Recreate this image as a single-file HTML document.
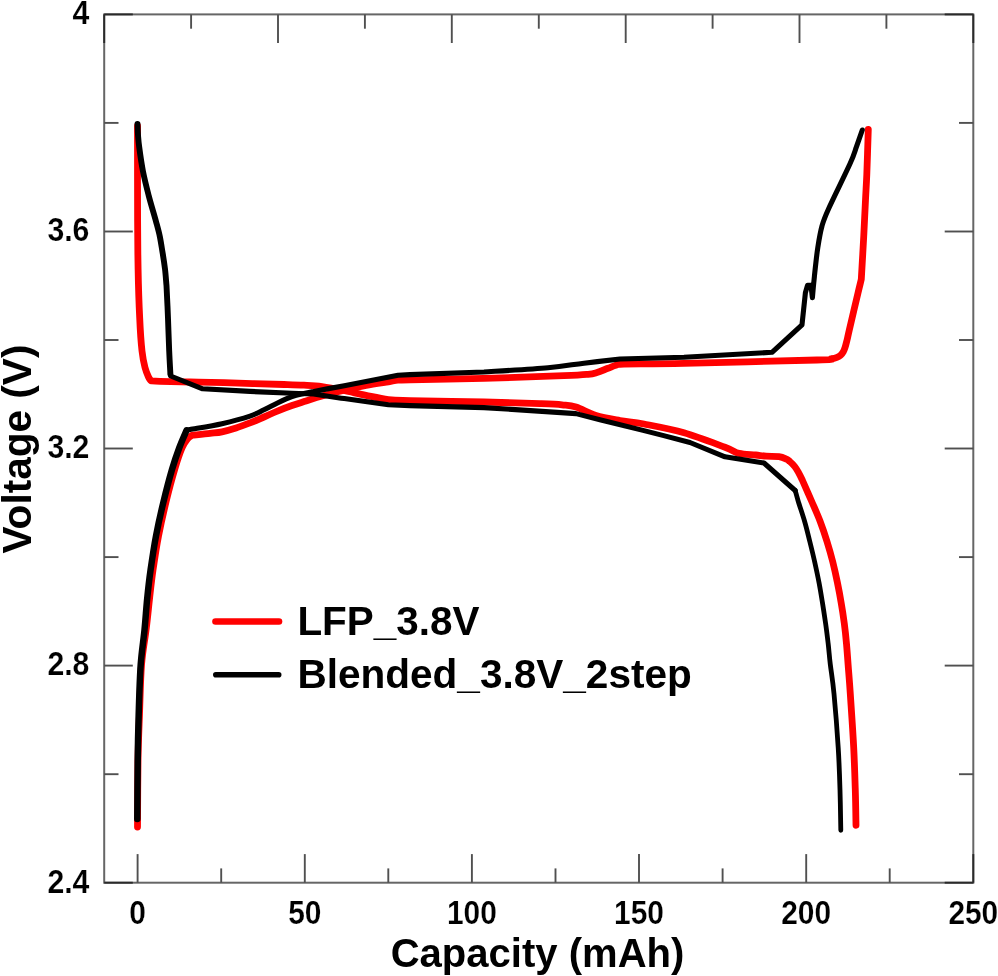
<!DOCTYPE html>
<html lang="en"><head><meta charset="utf-8"><title>Voltage vs Capacity</title>
<style>html,body{margin:0;padding:0;background:#fff;}body{width:998px;height:976px;overflow:hidden;}svg{display:block;}text{font-family:"Liberation Sans",Arial,Helvetica,sans-serif;font-weight:bold;fill:#000;}</style></head><body>
<svg width="998" height="976" viewBox="0 0 998 976">
<rect x="0" y="0" width="998" height="976" fill="#fff"/>
<rect x="104.2" y="14.4" width="869.1" height="868.3" fill="none" stroke="#666" stroke-width="2"/>
<line x1="104.2" y1="14.4" x2="132.8" y2="14.4" stroke="#2a2a2a" stroke-width="1.9"/>
<line x1="973.3" y1="14.4" x2="944.7" y2="14.4" stroke="#2a2a2a" stroke-width="1.9"/>
<line x1="104.2" y1="122.9" x2="118.5" y2="122.9" stroke="#505050" stroke-width="1.9"/>
<line x1="973.3" y1="122.9" x2="959.0" y2="122.9" stroke="#505050" stroke-width="1.9"/>
<line x1="104.2" y1="231.5" x2="132.8" y2="231.5" stroke="#505050" stroke-width="1.9"/>
<line x1="973.3" y1="231.5" x2="944.7" y2="231.5" stroke="#505050" stroke-width="1.9"/>
<line x1="104.2" y1="340.0" x2="118.5" y2="340.0" stroke="#505050" stroke-width="1.9"/>
<line x1="973.3" y1="340.0" x2="959.0" y2="340.0" stroke="#505050" stroke-width="1.9"/>
<line x1="104.2" y1="448.5" x2="132.8" y2="448.5" stroke="#505050" stroke-width="1.9"/>
<line x1="973.3" y1="448.5" x2="944.7" y2="448.5" stroke="#505050" stroke-width="1.9"/>
<line x1="104.2" y1="557.1" x2="118.5" y2="557.1" stroke="#505050" stroke-width="1.9"/>
<line x1="973.3" y1="557.1" x2="959.0" y2="557.1" stroke="#505050" stroke-width="1.9"/>
<line x1="104.2" y1="665.6" x2="132.8" y2="665.6" stroke="#505050" stroke-width="1.9"/>
<line x1="973.3" y1="665.6" x2="944.7" y2="665.6" stroke="#505050" stroke-width="1.9"/>
<line x1="104.2" y1="774.2" x2="118.5" y2="774.2" stroke="#505050" stroke-width="1.9"/>
<line x1="973.3" y1="774.2" x2="959.0" y2="774.2" stroke="#505050" stroke-width="1.9"/>
<line x1="104.2" y1="882.7" x2="132.8" y2="882.7" stroke="#2a2a2a" stroke-width="1.9"/>
<line x1="973.3" y1="882.7" x2="944.7" y2="882.7" stroke="#2a2a2a" stroke-width="1.9"/>
<line x1="137.6" y1="882.7" x2="137.6" y2="854.1" stroke="#505050" stroke-width="1.9"/>
<line x1="221.2" y1="882.7" x2="221.2" y2="868.4" stroke="#505050" stroke-width="1.9"/>
<line x1="304.8" y1="882.7" x2="304.8" y2="854.1" stroke="#505050" stroke-width="1.9"/>
<line x1="388.3" y1="882.7" x2="388.3" y2="868.4" stroke="#505050" stroke-width="1.9"/>
<line x1="471.9" y1="882.7" x2="471.9" y2="854.1" stroke="#505050" stroke-width="1.9"/>
<line x1="555.5" y1="882.7" x2="555.5" y2="868.4" stroke="#505050" stroke-width="1.9"/>
<line x1="639.0" y1="882.7" x2="639.0" y2="854.1" stroke="#505050" stroke-width="1.9"/>
<line x1="722.6" y1="882.7" x2="722.6" y2="868.4" stroke="#505050" stroke-width="1.9"/>
<line x1="806.2" y1="882.7" x2="806.2" y2="854.1" stroke="#505050" stroke-width="1.9"/>
<line x1="889.7" y1="882.7" x2="889.7" y2="868.4" stroke="#505050" stroke-width="1.9"/>
<line x1="973.3" y1="882.7" x2="973.3" y2="854.1" stroke="#2a2a2a" stroke-width="1.9"/>
<line x1="104.2" y1="14.4" x2="104.2" y2="43.0" stroke="#2a2a2a" stroke-width="1.9"/>
<line x1="191.1" y1="14.4" x2="191.1" y2="28.7" stroke="#505050" stroke-width="1.9"/>
<line x1="278.0" y1="14.4" x2="278.0" y2="43.0" stroke="#505050" stroke-width="1.9"/>
<line x1="364.9" y1="14.4" x2="364.9" y2="28.7" stroke="#505050" stroke-width="1.9"/>
<line x1="451.8" y1="14.4" x2="451.8" y2="43.0" stroke="#505050" stroke-width="1.9"/>
<line x1="538.8" y1="14.4" x2="538.8" y2="28.7" stroke="#505050" stroke-width="1.9"/>
<line x1="625.7" y1="14.4" x2="625.7" y2="43.0" stroke="#505050" stroke-width="1.9"/>
<line x1="712.6" y1="14.4" x2="712.6" y2="28.7" stroke="#505050" stroke-width="1.9"/>
<line x1="799.5" y1="14.4" x2="799.5" y2="43.0" stroke="#505050" stroke-width="1.9"/>
<line x1="886.4" y1="14.4" x2="886.4" y2="28.7" stroke="#505050" stroke-width="1.9"/>
<line x1="973.3" y1="14.4" x2="973.3" y2="43.0" stroke="#2a2a2a" stroke-width="1.9"/>
<g fill="none" stroke-linecap="round" stroke-linejoin="round">
<path d="M137.5 827.0 C137.6 816.0 137.7 779.8 138.0 761.0 C138.3 742.2 138.9 730.0 139.5 714.0 C140.1 698.0 140.4 679.3 141.5 665.0 C142.6 650.7 145.0 639.2 146.3 628.0 C147.7 616.8 148.5 607.7 149.6 598.0 C150.7 588.3 151.5 580.3 153.0 570.0 C154.5 559.7 156.3 547.3 158.5 536.0 C160.7 524.7 163.3 513.2 166.0 502.0 C168.7 490.8 172.1 478.0 174.8 469.0 C177.5 460.0 179.8 453.1 182.0 448.0 C184.2 442.9 186.1 440.6 187.8 438.5 C189.5 436.4 191.6 435.8 192.3 435.2 C195.2 434.9 205.1 434.0 210.0 433.4 C214.9 432.8 217.7 432.7 222.0 431.8 C226.3 430.9 231.3 429.5 236.0 428.0 C240.7 426.5 245.3 424.7 250.0 422.9 C254.7 421.1 259.3 419.0 264.0 417.0 C268.7 415.0 273.3 412.7 278.0 410.8 C282.7 408.9 287.3 407.1 292.0 405.5 C296.7 403.9 301.0 402.6 306.0 401.0 C311.0 399.4 315.6 397.8 322.0 396.0 C328.4 394.2 337.0 392.0 344.3 390.2 C351.6 388.4 358.6 386.8 366.0 385.4 C373.4 384.0 383.4 382.6 388.4 381.8 C393.4 381.0 392.4 380.7 396.0 380.4 C399.6 380.1 395.3 380.1 410.0 379.8 C424.7 379.5 458.3 379.0 484.0 378.3 C509.7 377.6 546.7 376.4 564.0 375.7 C581.3 375.0 582.5 374.8 588.0 374.3 C593.5 373.8 593.7 373.5 597.0 372.5 C600.3 371.5 604.8 369.5 608.0 368.3 C611.2 367.1 613.3 366.0 616.0 365.3 C618.7 364.6 612.7 364.3 624.0 364.0 C635.3 363.7 651.8 364.0 684.0 363.3 C716.2 362.6 792.4 360.8 817.0 360.0 C841.6 359.2 828.1 359.1 831.4 358.7 C834.7 358.2 835.5 357.9 837.0 357.3 C838.5 356.7 839.6 356.1 840.6 355.2 C841.6 354.3 842.5 353.2 843.3 351.8 C844.1 350.4 844.6 348.9 845.2 347.0 C845.8 345.1 846.3 343.0 847.0 340.2 C847.7 337.4 847.5 337.9 849.3 330.0 C851.1 322.1 856.0 301.4 858.0 293.0 C860.0 284.6 860.8 281.6 861.3 279.3 C861.7 272.2 863.0 250.1 863.7 236.9 C864.4 223.7 865.0 210.4 865.5 200.0 C866.0 189.6 866.3 186.3 866.8 174.5 C867.3 162.7 868.0 136.9 868.3 129.4" stroke="#ff0000" stroke-width="6.8"/>
<path d="M137.5 126.0 C137.5 141.7 137.5 196.2 137.6 220.0 C137.7 243.8 137.8 252.7 138.1 269.0 C138.4 285.3 139.0 304.3 139.7 318.0 C140.3 331.7 141.1 342.8 142.0 351.0 C142.9 359.2 143.9 363.2 145.0 367.5 C146.1 371.8 147.5 374.8 148.5 377.0 C149.5 379.2 150.6 380.2 151.0 380.8 C152.5 380.9 153.5 381.1 160.0 381.3 C166.5 381.5 179.3 381.8 190.0 382.0 C200.7 382.2 208.3 382.3 224.0 382.7 C239.7 383.1 270.7 384.1 284.0 384.5 C297.3 384.9 297.7 384.9 304.0 385.2 C310.3 385.5 315.3 385.6 322.0 386.5 C328.7 387.4 336.7 389.0 344.0 390.5 C351.3 392.0 358.6 393.8 366.0 395.3 C373.4 396.8 381.1 398.6 388.4 399.5 C395.7 400.4 394.1 400.2 410.0 400.6 C425.9 401.0 462.3 401.5 484.0 402.0 C505.7 402.5 527.0 403.1 540.0 403.6 C553.0 404.1 556.0 404.2 562.0 404.8 C568.0 405.4 570.3 405.2 576.0 407.0 C581.7 408.8 588.7 413.2 596.0 415.5 C603.3 417.8 612.0 419.1 620.0 420.5 C628.0 421.9 633.3 421.9 644.0 424.0 C654.7 426.1 670.5 428.9 684.0 432.8 C697.5 436.7 715.8 443.9 725.0 447.3 C734.2 450.7 733.9 452.1 739.0 453.4 C744.1 454.7 751.2 454.5 755.7 455.0 C760.2 455.5 762.1 455.9 766.0 456.2 C769.9 456.5 775.6 456.2 779.0 456.7 C782.4 457.2 784.7 458.4 786.5 459.2 C788.3 460.0 788.4 460.3 789.8 461.5 C791.2 462.7 793.3 464.7 794.7 466.5 C796.1 468.3 797.1 470.1 798.4 472.3 C799.7 474.6 800.1 475.3 802.3 480.0 C804.4 484.7 808.3 493.7 811.3 500.5 C814.2 507.3 817.4 514.2 820.0 521.0 C822.6 527.8 824.9 534.7 827.0 541.5 C829.1 548.3 831.1 555.2 832.8 562.0 C834.5 568.8 836.0 575.7 837.4 582.5 C838.8 589.3 840.1 596.2 841.2 603.0 C842.4 609.8 843.4 616.6 844.3 623.4 C845.2 630.2 845.9 637.1 846.5 643.9 C847.1 650.7 847.5 656.1 848.1 664.4 C848.7 672.7 849.4 679.9 850.3 693.8 C851.2 707.6 852.9 731.5 853.7 747.5 C854.5 763.5 854.9 777.0 855.3 790.0 C855.7 803.0 855.9 819.4 856.0 825.3" stroke="#ff0000" stroke-width="6.8"/>
<path d="M137.3 819.0 C137.4 809.4 137.5 779.0 137.7 761.5 C137.9 744.0 138.2 730.1 138.7 714.0 C139.2 697.9 139.7 678.8 140.7 664.8 C141.7 650.8 143.4 641.0 144.5 630.0 C145.6 619.0 146.2 608.4 147.2 598.5 C148.2 588.6 149.0 580.9 150.5 570.5 C152.0 560.1 153.8 547.5 156.0 536.0 C158.2 524.5 160.8 512.8 163.5 501.7 C166.2 490.6 169.4 478.4 172.0 469.5 C174.6 460.6 176.8 454.5 179.2 448.0 C181.6 441.5 185.4 433.2 186.6 430.3" stroke="#000" stroke-width="6.5"/>
<path d="M186.6 430.3 L190.0 429.6 C195.3 428.6 212.0 425.9 222.0 423.7 C232.0 421.4 243.0 418.4 250.0 416.1 C257.0 413.8 259.3 412.0 264.0 409.8 C268.7 407.6 273.3 404.9 278.0 402.7 C282.7 400.5 287.7 398.2 292.0 396.7 C296.3 395.2 300.3 394.4 304.0 393.5 C307.7 392.6 307.3 392.7 314.0 391.4 C320.7 390.1 339.2 386.6 344.3 385.7 L398.0 375.2 L410.0 374.6 L484.0 372.0 C494.7 371.3 531.3 369.2 548.0 367.7 C564.7 366.2 572.0 364.6 584.0 363.2 C596.0 361.8 614.0 359.7 620.0 359.0 L684.0 357.2 L772.0 352.3 L802.0 324.8 L805.4 292.8 L807.5 285.4 L811.0 285.4 L812.4 297.7 C812.7 294.1 813.5 284.8 814.4 276.4 C815.3 268.0 816.5 256.0 817.8 247.6 C819.1 239.2 820.2 232.4 822.0 226.0 C823.8 219.6 823.8 219.4 828.5 209.0 C833.2 198.6 845.3 174.2 850.0 163.8 C854.7 153.4 854.5 152.2 856.5 146.6 C858.5 141.0 861.3 132.8 862.3 130.0" stroke="#000" stroke-width="5.1"/>
<path d="M137.5 124.0 C137.6 125.8 137.7 131.2 138.0 135.0 C138.3 138.8 138.4 140.9 139.2 147.0 C140.0 153.1 141.4 163.3 143.0 171.5 C144.6 179.7 146.7 187.8 148.8 196.0 C150.9 204.2 154.0 214.0 155.8 220.7 C157.6 227.4 158.7 231.1 159.8 236.4 C160.9 241.8 161.7 247.4 162.6 252.8 C163.5 258.2 164.3 263.5 165.0 269.0 C165.7 274.5 166.2 282.8 166.5 285.6 C166.8 291.1 167.6 307.5 168.0 318.4 C168.4 329.3 168.8 341.7 169.2 351.0 C169.6 360.3 170.2 370.2 170.4 374.0" stroke="#000" stroke-width="5.9"/>
<path d="M170.4 374.0 L170.6 376.0 L202.6 388.8 L250.0 391.4 L292.0 393.3 L313.5 394.0 C318.6 394.8 331.8 396.8 344.3 398.6 C356.8 400.4 381.0 403.8 388.4 404.8 L410.0 405.6 L484.0 407.6 L576.0 413.6 C580.7 414.8 592.7 417.9 604.0 420.7 C615.3 423.5 629.7 427.0 644.0 430.6 C658.3 434.2 682.3 440.5 690.0 442.5 L725.0 456.8 L764.0 463.0 L795.2 490.5" stroke="#000" stroke-width="5.1"/>
<path d="M795.2 490.5 C795.7 492.2 796.5 495.4 798.0 500.5 C799.5 505.6 802.5 514.2 804.5 521.0 C806.5 527.8 808.1 534.7 809.8 541.5 C811.5 548.3 813.2 555.2 814.7 562.0 C816.2 568.8 817.7 575.7 819.0 582.5 C820.3 589.3 821.4 596.2 822.5 603.0 C823.6 609.8 824.6 616.6 825.6 623.4 C826.6 630.2 827.4 637.1 828.2 643.9 C829.0 650.7 829.3 656.1 830.3 664.4 C831.3 672.7 832.7 679.9 834.0 693.8 C835.3 707.6 837.2 731.5 838.2 747.5 C839.2 763.5 839.6 776.2 840.0 790.0 C840.4 803.8 840.7 823.6 840.8 830.3" stroke="#000" stroke-width="4.8"/>
<line x1="215.5" y1="621.5" x2="279" y2="621.5" stroke="#ff0000" stroke-width="6.6"/>
<line x1="215.8" y1="674.7" x2="278.7" y2="674.7" stroke="#000" stroke-width="5.6"/>
</g>
<text transform="translate(297.40,635.00) scale(1.0110,1)" font-size="40.00" text-anchor="start">LFP_3.8V</text>
<text transform="translate(297.40,688.20) scale(1.0140,1)" font-size="40.00" text-anchor="start">Blended_3.8V_2step</text>
<text transform="translate(89.40,24.20) scale(0.9100,1)" font-size="33.20" text-anchor="end" stroke="#fff" stroke-width="0.20">4</text>
<text transform="translate(89.40,241.27) scale(0.9100,1)" font-size="33.20" text-anchor="end" stroke="#fff" stroke-width="0.20">3.6</text>
<text transform="translate(89.40,458.35) scale(0.9100,1)" font-size="33.20" text-anchor="end" stroke="#fff" stroke-width="0.20">3.2</text>
<text transform="translate(89.40,675.43) scale(0.9100,1)" font-size="33.20" text-anchor="end" stroke="#fff" stroke-width="0.20">2.8</text>
<text transform="translate(89.40,892.50) scale(0.9100,1)" font-size="33.20" text-anchor="end" stroke="#fff" stroke-width="0.20">2.4</text>
<text transform="translate(137.63,923.90) scale(0.9000,1)" font-size="33.20" text-anchor="middle" stroke="#fff" stroke-width="0.20">0</text>
<text transform="translate(304.76,923.90) scale(0.9000,1)" font-size="33.20" text-anchor="middle" stroke="#fff" stroke-width="0.20">50</text>
<text transform="translate(471.90,923.90) scale(0.9000,1)" font-size="33.20" text-anchor="middle" stroke="#fff" stroke-width="0.20">100</text>
<text transform="translate(639.03,923.90) scale(0.9000,1)" font-size="33.20" text-anchor="middle" stroke="#fff" stroke-width="0.20">150</text>
<text transform="translate(806.17,923.90) scale(0.9000,1)" font-size="33.20" text-anchor="middle" stroke="#fff" stroke-width="0.20">200</text>
<text transform="translate(973.30,923.90) scale(0.9000,1)" font-size="33.20" text-anchor="middle" stroke="#fff" stroke-width="0.20">250</text>
<text transform="translate(537.50,967.00) scale(0.9770,1)" font-size="41.00" text-anchor="middle">Capacity (mAh)</text>
<text transform="translate(30.60,449.00) rotate(-90) scale(0.9900,1)" font-size="41.00" text-anchor="middle">Voltage (V)</text>
</svg></body></html>
